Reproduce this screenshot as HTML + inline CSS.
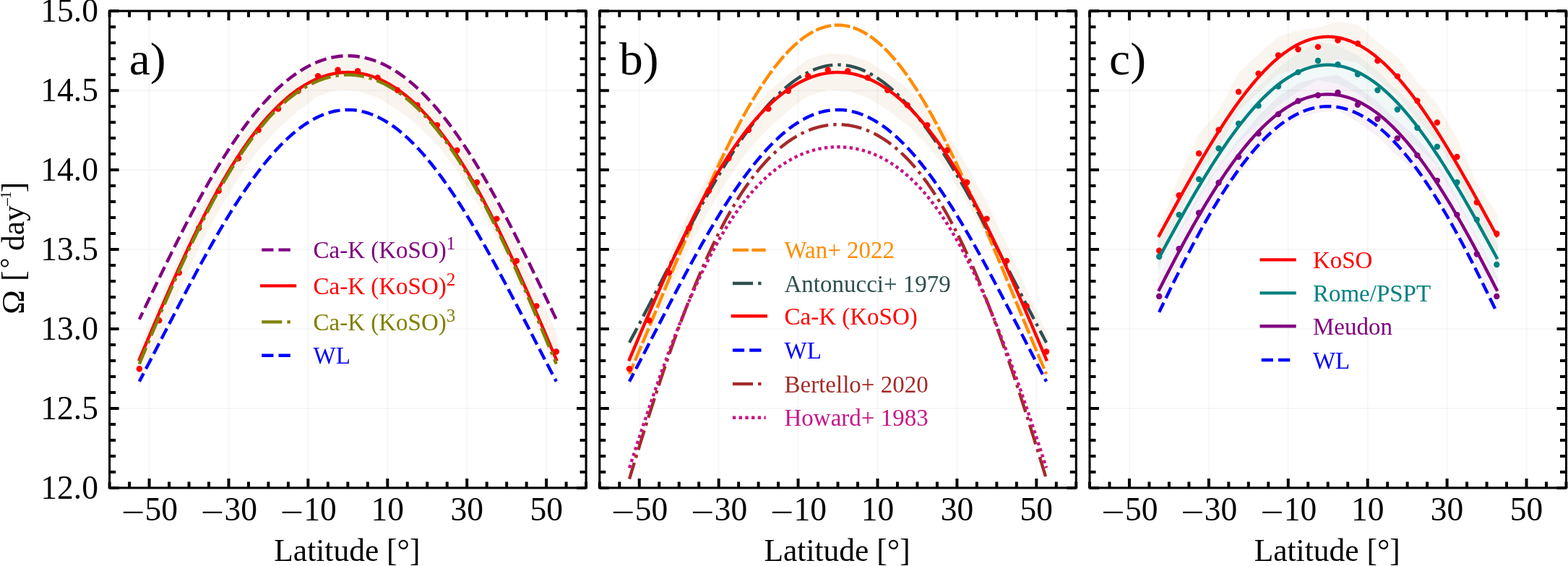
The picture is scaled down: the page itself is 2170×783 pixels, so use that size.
<!DOCTYPE html>
<html><head><meta charset="utf-8"><title>Differential rotation</title>
<style>html,body{margin:0;padding:0;background:#fff;width:2170px;height:783px;overflow:hidden}svg{display:block}</style>
</head><body>
<svg width="2170" height="783" viewBox="0 0 2170 783" font-family="'Liberation Serif', 'Times New Roman', serif">
<rect width="2170" height="783" fill="#fff"/>
<clipPath id="c0"><rect x="151.60" y="15.20" width="659.50" height="659.70"/></clipPath>
<clipPath id="c1"><rect x="829.80" y="15.20" width="659.50" height="659.70"/></clipPath>
<clipPath id="c2"><rect x="1508.00" y="15.20" width="659.50" height="659.70"/></clipPath>
<g stroke="#b0b0b0" stroke-opacity="0.1" stroke-width="2.1" fill="none"><path d="M206.56,15.20V674.90"/><path d="M316.48,15.20V674.90"/><path d="M426.39,15.20V674.90"/><path d="M536.31,15.20V674.90"/><path d="M646.23,15.20V674.90"/><path d="M756.14,15.20V674.90"/><path d="M151.60,564.95H811.10"/><path d="M151.60,455.00H811.10"/><path d="M151.60,345.05H811.10"/><path d="M151.60,235.10H811.10"/><path d="M151.60,125.15H811.10"/></g>
<g stroke="#b0b0b0" stroke-opacity="0.1" stroke-width="2.1" fill="none"><path d="M884.76,15.20V674.90"/><path d="M994.67,15.20V674.90"/><path d="M1104.59,15.20V674.90"/><path d="M1214.51,15.20V674.90"/><path d="M1324.42,15.20V674.90"/><path d="M1434.34,15.20V674.90"/><path d="M829.80,564.95H1489.30"/><path d="M829.80,455.00H1489.30"/><path d="M829.80,345.05H1489.30"/><path d="M829.80,235.10H1489.30"/><path d="M829.80,125.15H1489.30"/></g>
<g stroke="#b0b0b0" stroke-opacity="0.1" stroke-width="2.1" fill="none"><path d="M1562.96,15.20V674.90"/><path d="M1672.88,15.20V674.90"/><path d="M1782.79,15.20V674.90"/><path d="M1892.71,15.20V674.90"/><path d="M2002.62,15.20V674.90"/><path d="M2112.54,15.20V674.90"/><path d="M1508.00,564.95H2167.50"/><path d="M1508.00,455.00H2167.50"/><path d="M1508.00,345.05H2167.50"/><path d="M1508.00,235.10H2167.50"/><path d="M1508.00,125.15H2167.50"/></g>
<g clip-path="url(#c0)"><path d="M191.17,487.11 L220.30,420.26 L247.78,354.29 L275.26,292.49 L302.74,241.04 L330.21,195.96 L357.69,156.82 L385.17,127.35 L412.65,102.72 L440.13,82.05 L467.61,73.69 L495.09,75.23 L522.57,84.47 L550.05,101.62 L577.53,122.29 L605.01,150.00 L632.49,184.96 L659.96,229.16 L687.44,279.52 L714.92,337.79 L742.40,400.24 L771.53,463.36 L771.53,513.93 L742.40,450.82 L714.92,388.37 L687.44,330.10 L659.96,279.74 L632.49,235.54 L605.01,200.58 L577.53,172.87 L550.05,152.20 L522.57,135.05 L495.09,125.81 L467.61,124.27 L440.13,132.63 L412.65,153.30 L385.17,177.93 L357.69,207.39 L330.21,246.53 L302.74,291.61 L275.26,343.07 L247.78,404.86 L220.30,470.83 L191.17,537.68 Z" fill="#cd853f" fill-opacity="0.092" stroke="none"/>
<circle cx="192.82" cy="510.19" r="4.2" fill="#ff0000"/><circle cx="220.30" cy="443.35" r="4.2" fill="#ff0000"/><circle cx="247.78" cy="377.38" r="4.2" fill="#ff0000"/><circle cx="275.26" cy="315.58" r="4.2" fill="#ff0000"/><circle cx="302.74" cy="264.13" r="4.2" fill="#ff0000"/><circle cx="330.21" cy="219.05" r="4.2" fill="#ff0000"/><circle cx="357.69" cy="179.91" r="4.2" fill="#ff0000"/><circle cx="385.17" cy="150.44" r="4.2" fill="#ff0000"/><circle cx="412.65" cy="125.81" r="4.2" fill="#ff0000"/><circle cx="440.13" cy="105.14" r="4.2" fill="#ff0000"/><circle cx="467.61" cy="96.78" r="4.2" fill="#ff0000"/><circle cx="495.09" cy="98.32" r="4.2" fill="#ff0000"/><circle cx="522.57" cy="107.56" r="4.2" fill="#ff0000"/><circle cx="550.05" cy="124.71" r="4.2" fill="#ff0000"/><circle cx="577.53" cy="145.38" r="4.2" fill="#ff0000"/><circle cx="605.01" cy="173.09" r="4.2" fill="#ff0000"/><circle cx="632.49" cy="208.05" r="4.2" fill="#ff0000"/><circle cx="659.96" cy="252.25" r="4.2" fill="#ff0000"/><circle cx="687.44" cy="302.61" r="4.2" fill="#ff0000"/><circle cx="714.92" cy="360.88" r="4.2" fill="#ff0000"/><circle cx="742.40" cy="423.33" r="4.2" fill="#ff0000"/><circle cx="769.88" cy="486.45" r="4.2" fill="#ff0000"/>
<path d="M192.82,441.86 L196.43,434.34 L200.03,426.81 L203.64,419.28 L207.25,411.77 L210.85,404.26 L214.46,396.77 L218.07,389.29 L221.67,381.85 L225.28,374.43 L228.89,367.04 L232.49,359.69 L236.10,352.38 L239.71,345.11 L243.31,337.89 L246.92,330.73 L250.52,323.61 L254.13,316.56 L257.74,309.57 L261.34,302.64 L264.95,295.78 L268.56,289.00 L272.16,282.28 L275.77,275.65 L279.38,269.09 L282.98,262.62 L286.59,256.23 L290.20,249.94 L293.80,243.73 L297.41,237.61 L301.02,231.59 L304.62,225.66 L308.23,219.84 L311.84,214.11 L315.44,208.49 L319.05,202.97 L322.66,197.56 L326.26,192.25 L329.87,187.05 L333.48,181.97 L337.08,176.99 L340.69,172.13 L344.30,167.38 L347.90,162.75 L351.51,158.24 L355.12,153.84 L358.72,149.55 L362.33,145.39 L365.94,141.35 L369.54,137.42 L373.15,133.62 L376.76,129.94 L380.36,126.38 L383.97,122.94 L387.58,119.63 L391.18,116.44 L394.79,113.37 L398.40,110.43 L402.00,107.61 L405.61,104.91 L409.22,102.34 L412.82,99.89 L416.43,97.57 L420.04,95.38 L423.64,93.30 L427.25,91.36 L430.86,89.54 L434.46,87.84 L438.07,86.27 L441.68,84.83 L445.28,83.51 L448.89,82.32 L452.50,81.25 L456.10,80.31 L459.71,79.49 L463.32,78.80 L466.92,78.23 L470.53,77.80 L474.14,77.48 L477.74,77.29 L481.35,77.23 L484.96,77.29 L488.56,77.48 L492.17,77.80 L495.78,78.23 L499.38,78.80 L502.99,79.49 L506.60,80.31 L510.20,81.25 L513.81,82.32 L517.42,83.51 L521.02,84.83 L524.63,86.27 L528.24,87.84 L531.84,89.54 L535.45,91.36 L539.06,93.30 L542.66,95.38 L546.27,97.57 L549.88,99.89 L553.48,102.34 L557.09,104.91 L560.70,107.61 L564.30,110.43 L567.91,113.37 L571.52,116.44 L575.12,119.63 L578.73,122.94 L582.34,126.38 L585.94,129.94 L589.55,133.62 L593.16,137.42 L596.76,141.35 L600.37,145.39 L603.98,149.55 L607.58,153.84 L611.19,158.24 L614.80,162.75 L618.40,167.38 L622.01,172.13 L625.62,176.99 L629.22,181.97 L632.83,187.05 L636.44,192.25 L640.04,197.56 L643.65,202.97 L647.26,208.49 L650.86,214.11 L654.47,219.84 L658.08,225.66 L661.68,231.59 L665.29,237.61 L668.90,243.73 L672.50,249.94 L676.11,256.23 L679.72,262.62 L683.32,269.09 L686.93,275.65 L690.54,282.28 L694.14,289.00 L697.75,295.78 L701.36,302.64 L704.96,309.57 L708.57,316.56 L712.18,323.61 L715.78,330.73 L719.39,337.89 L722.99,345.11 L726.60,352.38 L730.21,359.69 L733.81,367.04 L737.42,374.43 L741.03,381.85 L744.63,389.29 L748.24,396.77 L751.85,404.26 L755.45,411.77 L759.06,419.28 L762.67,426.81 L766.27,434.34 L769.88,441.86" fill="none" stroke="#800080" stroke-width="4.4" stroke-dasharray="16.28 7.04" stroke-dashoffset="5.6" stroke-linejoin="round"/>
<path d="M192.82,497.32 L196.43,488.81 L200.03,480.30 L203.64,471.81 L207.25,463.33 L210.85,454.88 L214.46,446.45 L218.07,438.06 L221.67,429.70 L225.28,421.38 L228.89,413.12 L232.49,404.90 L236.10,396.74 L239.71,388.64 L243.31,380.61 L246.92,372.64 L250.52,364.75 L254.13,356.93 L257.74,349.19 L261.34,341.53 L264.95,333.96 L268.56,326.49 L272.16,319.10 L275.77,311.81 L279.38,304.62 L282.98,297.53 L286.59,290.54 L290.20,283.66 L293.80,276.89 L297.41,270.23 L301.02,263.69 L304.62,257.26 L308.23,250.94 L311.84,244.75 L315.44,238.68 L319.05,232.72 L322.66,226.89 L326.26,221.19 L329.87,215.61 L333.48,210.16 L337.08,204.84 L340.69,199.64 L344.30,194.58 L347.90,189.64 L351.51,184.84 L355.12,180.17 L358.72,175.63 L362.33,171.22 L365.94,166.94 L369.54,162.80 L373.15,158.79 L376.76,154.92 L380.36,151.17 L383.97,147.56 L387.58,144.09 L391.18,140.75 L394.79,137.54 L398.40,134.46 L402.00,131.52 L405.61,128.71 L409.22,126.03 L412.82,123.49 L416.43,121.08 L420.04,118.80 L423.64,116.65 L427.25,114.63 L430.86,112.75 L434.46,110.99 L438.07,109.37 L441.68,107.88 L445.28,106.52 L448.89,105.29 L452.50,104.19 L456.10,103.21 L459.71,102.37 L463.32,101.66 L466.92,101.08 L470.53,100.63 L474.14,100.30 L477.74,100.11 L481.35,100.05 L484.96,100.11 L488.56,100.30 L492.17,100.63 L495.78,101.08 L499.38,101.66 L502.99,102.37 L506.60,103.21 L510.20,104.19 L513.81,105.29 L517.42,106.52 L521.02,107.88 L524.63,109.37 L528.24,110.99 L531.84,112.75 L535.45,114.63 L539.06,116.65 L542.66,118.80 L546.27,121.08 L549.88,123.49 L553.48,126.03 L557.09,128.71 L560.70,131.52 L564.30,134.46 L567.91,137.54 L571.52,140.75 L575.12,144.09 L578.73,147.56 L582.34,151.17 L585.94,154.92 L589.55,158.79 L593.16,162.80 L596.76,166.94 L600.37,171.22 L603.98,175.63 L607.58,180.17 L611.19,184.84 L614.80,189.64 L618.40,194.58 L622.01,199.64 L625.62,204.84 L629.22,210.16 L632.83,215.61 L636.44,221.19 L640.04,226.89 L643.65,232.72 L647.26,238.68 L650.86,244.75 L654.47,250.94 L658.08,257.26 L661.68,263.69 L665.29,270.23 L668.90,276.89 L672.50,283.66 L676.11,290.54 L679.72,297.53 L683.32,304.62 L686.93,311.81 L690.54,319.10 L694.14,326.49 L697.75,333.96 L701.36,341.53 L704.96,349.19 L708.57,356.93 L712.18,364.75 L715.78,372.64 L719.39,380.61 L722.99,388.64 L726.60,396.74 L730.21,404.90 L733.81,413.12 L737.42,421.38 L741.03,429.70 L744.63,438.06 L748.24,446.45 L751.85,454.88 L755.45,463.33 L759.06,471.81 L762.67,480.30 L766.27,488.81 L769.88,497.32" fill="none" stroke="#ff0000" stroke-width="4.4" stroke-linecap="square" stroke-linejoin="round"/>
<path d="M192.82,503.51 L196.43,494.85 L200.03,486.20 L203.64,477.56 L207.25,468.94 L210.85,460.35 L214.46,451.79 L218.07,443.26 L221.67,434.78 L225.28,426.34 L228.89,417.96 L232.49,409.63 L236.10,401.35 L239.71,393.15 L243.31,385.01 L246.92,376.94 L250.52,368.95 L254.13,361.04 L257.74,353.22 L261.34,345.48 L264.95,337.83 L268.56,330.27 L272.16,322.82 L275.77,315.46 L279.38,308.20 L282.98,301.05 L286.59,294.01 L290.20,287.08 L293.80,280.27 L297.41,273.56 L301.02,266.98 L304.62,260.51 L308.23,254.16 L311.84,247.94 L315.44,241.84 L319.05,235.87 L322.66,230.02 L326.26,224.30 L329.87,218.70 L333.48,213.24 L337.08,207.91 L340.69,202.71 L344.30,197.64 L347.90,192.71 L351.51,187.90 L355.12,183.24 L358.72,178.70 L362.33,174.30 L365.94,170.03 L369.54,165.90 L373.15,161.90 L376.76,158.04 L380.36,154.31 L383.97,150.72 L387.58,147.26 L391.18,143.93 L394.79,140.74 L398.40,137.68 L402.00,134.75 L405.61,131.96 L409.22,129.30 L412.82,126.78 L416.43,124.38 L420.04,122.12 L423.64,119.99 L427.25,117.99 L430.86,116.12 L434.46,114.38 L438.07,112.77 L441.68,111.29 L445.28,109.95 L448.89,108.73 L452.50,107.64 L456.10,106.67 L459.71,105.84 L463.32,105.14 L466.92,104.56 L470.53,104.11 L474.14,103.79 L477.74,103.60 L481.35,103.54 L484.96,103.60 L488.56,103.79 L492.17,104.11 L495.78,104.56 L499.38,105.14 L502.99,105.84 L506.60,106.67 L510.20,107.64 L513.81,108.73 L517.42,109.95 L521.02,111.29 L524.63,112.77 L528.24,114.38 L531.84,116.12 L535.45,117.99 L539.06,119.99 L542.66,122.12 L546.27,124.38 L549.88,126.78 L553.48,129.30 L557.09,131.96 L560.70,134.75 L564.30,137.68 L567.91,140.74 L571.52,143.93 L575.12,147.26 L578.73,150.72 L582.34,154.31 L585.94,158.04 L589.55,161.90 L593.16,165.90 L596.76,170.03 L600.37,174.30 L603.98,178.70 L607.58,183.24 L611.19,187.90 L614.80,192.71 L618.40,197.64 L622.01,202.71 L625.62,207.91 L629.22,213.24 L632.83,218.70 L636.44,224.30 L640.04,230.02 L643.65,235.87 L647.26,241.84 L650.86,247.94 L654.47,254.16 L658.08,260.51 L661.68,266.98 L665.29,273.56 L668.90,280.27 L672.50,287.08 L676.11,294.01 L679.72,301.05 L683.32,308.20 L686.93,315.46 L690.54,322.82 L694.14,330.27 L697.75,337.83 L701.36,345.48 L704.96,353.22 L708.57,361.04 L712.18,368.95 L715.78,376.94 L719.39,385.01 L722.99,393.15 L726.60,401.35 L730.21,409.63 L733.81,417.96 L737.42,426.34 L741.03,434.78 L744.63,443.26 L748.24,451.79 L751.85,460.35 L755.45,468.94 L759.06,477.56 L762.67,486.20 L766.27,494.85 L769.88,503.51" fill="none" stroke="#808000" stroke-width="4.4" stroke-dasharray="28.16 7.04 4.40 7.04" stroke-dashoffset="4" stroke-linejoin="round"/>
<path d="M192.82,527.70 L196.43,520.85 L200.03,513.98 L203.64,507.08 L207.25,500.15 L210.85,493.21 L214.46,486.25 L218.07,479.28 L221.67,472.30 L225.28,465.32 L228.89,458.33 L232.49,451.35 L236.10,444.38 L239.71,437.42 L243.31,430.47 L246.92,423.53 L250.52,416.62 L254.13,409.74 L257.74,402.88 L261.34,396.06 L264.95,389.27 L268.56,382.52 L272.16,375.81 L275.77,369.15 L279.38,362.53 L282.98,355.97 L286.59,349.47 L290.20,343.02 L293.80,336.64 L297.41,330.32 L301.02,324.07 L304.62,317.89 L308.23,311.78 L311.84,305.75 L315.44,299.81 L319.05,293.94 L322.66,288.16 L326.26,282.48 L329.87,276.88 L333.48,271.38 L337.08,265.97 L340.69,260.66 L344.30,255.46 L347.90,250.36 L351.51,245.36 L355.12,240.48 L358.72,235.71 L362.33,231.05 L365.94,226.50 L369.54,222.08 L373.15,217.77 L376.76,213.58 L380.36,209.52 L383.97,205.59 L387.58,201.78 L391.18,198.10 L394.79,194.56 L398.40,191.14 L402.00,187.86 L405.61,184.71 L409.22,181.71 L412.82,178.83 L416.43,176.10 L420.04,173.51 L423.64,171.06 L427.25,168.76 L430.86,166.60 L434.46,164.58 L438.07,162.71 L441.68,160.98 L445.28,159.41 L448.89,157.98 L452.50,156.70 L456.10,155.57 L459.71,154.59 L463.32,153.76 L466.92,153.08 L470.53,152.55 L474.14,152.17 L477.74,151.94 L481.35,151.86 L484.96,151.94 L488.56,152.17 L492.17,152.55 L495.78,153.08 L499.38,153.76 L502.99,154.59 L506.60,155.57 L510.20,156.70 L513.81,157.98 L517.42,159.41 L521.02,160.98 L524.63,162.71 L528.24,164.58 L531.84,166.60 L535.45,168.76 L539.06,171.06 L542.66,173.51 L546.27,176.10 L549.88,178.83 L553.48,181.71 L557.09,184.71 L560.70,187.86 L564.30,191.14 L567.91,194.56 L571.52,198.10 L575.12,201.78 L578.73,205.59 L582.34,209.52 L585.94,213.58 L589.55,217.77 L593.16,222.08 L596.76,226.50 L600.37,231.05 L603.98,235.71 L607.58,240.48 L611.19,245.36 L614.80,250.36 L618.40,255.46 L622.01,260.66 L625.62,265.97 L629.22,271.38 L632.83,276.88 L636.44,282.48 L640.04,288.16 L643.65,293.94 L647.26,299.81 L650.86,305.75 L654.47,311.78 L658.08,317.89 L661.68,324.07 L665.29,330.32 L668.90,336.64 L672.50,343.02 L676.11,349.47 L679.72,355.97 L683.32,362.53 L686.93,369.15 L690.54,375.81 L694.14,382.52 L697.75,389.27 L701.36,396.06 L704.96,402.88 L708.57,409.74 L712.18,416.62 L715.78,423.53 L719.39,430.47 L722.99,437.42 L726.60,444.38 L730.21,451.35 L733.81,458.33 L737.42,465.32 L741.03,472.30 L744.63,479.28 L748.24,486.25 L751.85,493.21 L755.45,500.15 L759.06,507.08 L762.67,513.98 L766.27,520.85 L769.88,527.70" fill="none" stroke="#0000ff" stroke-width="4.4" stroke-dasharray="16.28 7.04" stroke-dashoffset="3.6" stroke-linejoin="round"/></g>
<g clip-path="url(#c1)"><path d="M869.37,487.11 L898.50,420.26 L925.98,354.29 L953.46,292.49 L980.94,241.04 L1008.41,195.96 L1035.89,156.82 L1063.37,127.35 L1090.85,102.72 L1118.33,82.05 L1145.81,73.69 L1173.29,75.23 L1200.77,84.47 L1228.25,101.62 L1255.73,122.29 L1283.21,150.00 L1310.69,184.96 L1338.16,229.16 L1365.64,279.52 L1393.12,337.79 L1420.60,400.24 L1449.73,463.36 L1449.73,513.93 L1420.60,450.82 L1393.12,388.37 L1365.64,330.10 L1338.16,279.74 L1310.69,235.54 L1283.21,200.58 L1255.73,172.87 L1228.25,152.20 L1200.77,135.05 L1173.29,125.81 L1145.81,124.27 L1118.33,132.63 L1090.85,153.30 L1063.37,177.93 L1035.89,207.39 L1008.41,246.53 L980.94,291.61 L953.46,343.07 L925.98,404.86 L898.50,470.83 L869.37,537.68 Z" fill="#cd853f" fill-opacity="0.092" stroke="none"/>
<path d="M871.02,517.33 L874.63,508.94 L878.23,500.50 L881.84,492.01 L885.45,483.48 L889.05,474.91 L892.66,466.31 L896.27,457.68 L899.87,449.02 L903.48,440.35 L907.09,431.65 L910.69,422.95 L914.30,414.24 L917.91,405.53 L921.51,396.82 L925.12,388.12 L928.72,379.43 L932.33,370.76 L935.94,362.11 L939.54,353.48 L943.15,344.88 L946.76,336.32 L950.36,327.80 L953.97,319.32 L957.58,310.89 L961.18,302.51 L964.79,294.19 L968.40,285.94 L972.00,277.74 L975.61,269.62 L979.22,261.58 L982.82,253.61 L986.43,245.73 L990.04,237.93 L993.64,230.23 L997.25,222.62 L1000.86,215.11 L1004.46,207.71 L1008.07,200.42 L1011.68,193.24 L1015.28,186.17 L1018.89,179.23 L1022.50,172.41 L1026.10,165.72 L1029.71,159.16 L1033.32,152.73 L1036.92,146.44 L1040.53,140.30 L1044.14,134.30 L1047.74,128.45 L1051.35,122.75 L1054.96,117.20 L1058.56,111.82 L1062.17,106.59 L1065.78,101.53 L1069.38,96.64 L1072.99,91.91 L1076.60,87.36 L1080.20,82.98 L1083.81,78.78 L1087.42,74.76 L1091.02,70.92 L1094.63,67.27 L1098.24,63.80 L1101.84,60.52 L1105.45,57.42 L1109.06,54.52 L1112.66,51.82 L1116.27,49.30 L1119.88,46.98 L1123.48,44.86 L1127.09,42.94 L1130.70,41.22 L1134.30,39.70 L1137.91,38.38 L1141.52,37.26 L1145.12,36.34 L1148.73,35.63 L1152.34,35.12 L1155.94,34.81 L1159.55,34.71 L1163.16,34.81 L1166.76,35.12 L1170.37,35.63 L1173.98,36.34 L1177.58,37.26 L1181.19,38.38 L1184.80,39.70 L1188.40,41.22 L1192.01,42.94 L1195.62,44.86 L1199.22,46.98 L1202.83,49.30 L1206.44,51.82 L1210.04,54.52 L1213.65,57.42 L1217.26,60.52 L1220.86,63.80 L1224.47,67.27 L1228.08,70.92 L1231.68,74.76 L1235.29,78.78 L1238.90,82.98 L1242.50,87.36 L1246.11,91.91 L1249.72,96.64 L1253.32,101.53 L1256.93,106.59 L1260.54,111.82 L1264.14,117.20 L1267.75,122.75 L1271.36,128.45 L1274.96,134.30 L1278.57,140.30 L1282.18,146.44 L1285.78,152.73 L1289.39,159.16 L1293.00,165.72 L1296.60,172.41 L1300.21,179.23 L1303.82,186.17 L1307.42,193.24 L1311.03,200.42 L1314.64,207.71 L1318.24,215.11 L1321.85,222.62 L1325.46,230.23 L1329.06,237.93 L1332.67,245.73 L1336.28,253.61 L1339.88,261.58 L1343.49,269.62 L1347.10,277.74 L1350.70,285.94 L1354.31,294.19 L1357.92,302.51 L1361.52,310.89 L1365.13,319.32 L1368.74,327.80 L1372.34,336.32 L1375.95,344.88 L1379.56,353.48 L1383.16,362.11 L1386.77,370.76 L1390.38,379.43 L1393.98,388.12 L1397.59,396.82 L1401.19,405.53 L1404.80,414.24 L1408.41,422.95 L1412.01,431.65 L1415.62,440.35 L1419.23,449.02 L1422.83,457.68 L1426.44,466.31 L1430.05,474.91 L1433.65,483.48 L1437.26,492.01 L1440.87,500.50 L1444.47,508.94 L1448.08,517.33" fill="none" stroke="#ff8c00" stroke-width="4.4" stroke-dasharray="22.00 4.40" stroke-dashoffset="6.4" stroke-linejoin="round"/>
<path d="M871.02,473.92 L874.63,467.16 L878.23,460.36 L881.84,453.52 L885.45,446.65 L889.05,439.76 L892.66,432.84 L896.27,425.90 L899.87,418.95 L903.48,411.98 L907.09,405.00 L910.69,398.02 L914.30,391.04 L917.91,384.05 L921.51,377.07 L925.12,370.10 L928.72,363.15 L932.33,356.21 L935.94,349.29 L939.54,342.39 L943.15,335.52 L946.76,328.68 L950.36,321.88 L953.97,315.11 L957.58,308.39 L961.18,301.71 L964.79,295.07 L968.40,288.49 L972.00,281.97 L975.61,275.51 L979.22,269.10 L982.82,262.77 L986.43,256.50 L990.04,250.30 L993.64,244.18 L997.25,238.14 L1000.86,232.18 L1004.46,226.31 L1008.07,220.52 L1011.68,214.83 L1015.28,209.23 L1018.89,203.73 L1022.50,198.33 L1026.10,193.03 L1029.71,187.83 L1033.32,182.75 L1036.92,177.77 L1040.53,172.91 L1044.14,168.17 L1047.74,163.55 L1051.35,159.04 L1054.96,154.66 L1058.56,150.41 L1062.17,146.29 L1065.78,142.29 L1069.38,138.43 L1072.99,134.70 L1076.60,131.11 L1080.20,127.66 L1083.81,124.35 L1087.42,121.18 L1091.02,118.16 L1094.63,115.28 L1098.24,112.54 L1101.84,109.96 L1105.45,107.52 L1109.06,105.24 L1112.66,103.11 L1116.27,101.13 L1119.88,99.30 L1123.48,97.64 L1127.09,96.12 L1130.70,94.77 L1134.30,93.57 L1137.91,92.53 L1141.52,91.65 L1145.12,90.93 L1148.73,90.37 L1152.34,89.97 L1155.94,89.73 L1159.55,89.65 L1163.16,89.73 L1166.76,89.97 L1170.37,90.37 L1173.98,90.93 L1177.58,91.65 L1181.19,92.53 L1184.80,93.57 L1188.40,94.77 L1192.01,96.12 L1195.62,97.64 L1199.22,99.30 L1202.83,101.13 L1206.44,103.11 L1210.04,105.24 L1213.65,107.52 L1217.26,109.96 L1220.86,112.54 L1224.47,115.28 L1228.08,118.16 L1231.68,121.18 L1235.29,124.35 L1238.90,127.66 L1242.50,131.11 L1246.11,134.70 L1249.72,138.43 L1253.32,142.29 L1256.93,146.29 L1260.54,150.41 L1264.14,154.66 L1267.75,159.04 L1271.36,163.55 L1274.96,168.17 L1278.57,172.91 L1282.18,177.77 L1285.78,182.75 L1289.39,187.83 L1293.00,193.03 L1296.60,198.33 L1300.21,203.73 L1303.82,209.23 L1307.42,214.83 L1311.03,220.52 L1314.64,226.31 L1318.24,232.18 L1321.85,238.14 L1325.46,244.18 L1329.06,250.30 L1332.67,256.50 L1336.28,262.77 L1339.88,269.10 L1343.49,275.51 L1347.10,281.97 L1350.70,288.49 L1354.31,295.07 L1357.92,301.71 L1361.52,308.39 L1365.13,315.11 L1368.74,321.88 L1372.34,328.68 L1375.95,335.52 L1379.56,342.39 L1383.16,349.29 L1386.77,356.21 L1390.38,363.15 L1393.98,370.10 L1397.59,377.07 L1401.19,384.05 L1404.80,391.04 L1408.41,398.02 L1412.01,405.00 L1415.62,411.98 L1419.23,418.95 L1422.83,425.90 L1426.44,432.84 L1430.05,439.76 L1433.65,446.65 L1437.26,453.52 L1440.87,460.36 L1444.47,467.16 L1448.08,473.92" fill="none" stroke="#2f4f4f" stroke-width="4.4" stroke-dasharray="28.16 7.04 4.40 7.04" stroke-dashoffset="5.6" stroke-linejoin="round"/>
<path d="M871.02,497.32 L874.63,488.81 L878.23,480.30 L881.84,471.81 L885.45,463.33 L889.05,454.88 L892.66,446.45 L896.27,438.06 L899.87,429.70 L903.48,421.38 L907.09,413.12 L910.69,404.90 L914.30,396.74 L917.91,388.64 L921.51,380.61 L925.12,372.64 L928.72,364.75 L932.33,356.93 L935.94,349.19 L939.54,341.53 L943.15,333.96 L946.76,326.49 L950.36,319.10 L953.97,311.81 L957.58,304.62 L961.18,297.53 L964.79,290.54 L968.40,283.66 L972.00,276.89 L975.61,270.23 L979.22,263.69 L982.82,257.26 L986.43,250.94 L990.04,244.75 L993.64,238.68 L997.25,232.72 L1000.86,226.89 L1004.46,221.19 L1008.07,215.61 L1011.68,210.16 L1015.28,204.84 L1018.89,199.64 L1022.50,194.58 L1026.10,189.64 L1029.71,184.84 L1033.32,180.17 L1036.92,175.63 L1040.53,171.22 L1044.14,166.94 L1047.74,162.80 L1051.35,158.79 L1054.96,154.92 L1058.56,151.17 L1062.17,147.56 L1065.78,144.09 L1069.38,140.75 L1072.99,137.54 L1076.60,134.46 L1080.20,131.52 L1083.81,128.71 L1087.42,126.03 L1091.02,123.49 L1094.63,121.08 L1098.24,118.80 L1101.84,116.65 L1105.45,114.63 L1109.06,112.75 L1112.66,110.99 L1116.27,109.37 L1119.88,107.88 L1123.48,106.52 L1127.09,105.29 L1130.70,104.19 L1134.30,103.21 L1137.91,102.37 L1141.52,101.66 L1145.12,101.08 L1148.73,100.63 L1152.34,100.30 L1155.94,100.11 L1159.55,100.05 L1163.16,100.11 L1166.76,100.30 L1170.37,100.63 L1173.98,101.08 L1177.58,101.66 L1181.19,102.37 L1184.80,103.21 L1188.40,104.19 L1192.01,105.29 L1195.62,106.52 L1199.22,107.88 L1202.83,109.37 L1206.44,110.99 L1210.04,112.75 L1213.65,114.63 L1217.26,116.65 L1220.86,118.80 L1224.47,121.08 L1228.08,123.49 L1231.68,126.03 L1235.29,128.71 L1238.90,131.52 L1242.50,134.46 L1246.11,137.54 L1249.72,140.75 L1253.32,144.09 L1256.93,147.56 L1260.54,151.17 L1264.14,154.92 L1267.75,158.79 L1271.36,162.80 L1274.96,166.94 L1278.57,171.22 L1282.18,175.63 L1285.78,180.17 L1289.39,184.84 L1293.00,189.64 L1296.60,194.58 L1300.21,199.64 L1303.82,204.84 L1307.42,210.16 L1311.03,215.61 L1314.64,221.19 L1318.24,226.89 L1321.85,232.72 L1325.46,238.68 L1329.06,244.75 L1332.67,250.94 L1336.28,257.26 L1339.88,263.69 L1343.49,270.23 L1347.10,276.89 L1350.70,283.66 L1354.31,290.54 L1357.92,297.53 L1361.52,304.62 L1365.13,311.81 L1368.74,319.10 L1372.34,326.49 L1375.95,333.96 L1379.56,341.53 L1383.16,349.19 L1386.77,356.93 L1390.38,364.75 L1393.98,372.64 L1397.59,380.61 L1401.19,388.64 L1404.80,396.74 L1408.41,404.90 L1412.01,413.12 L1415.62,421.38 L1419.23,429.70 L1422.83,438.06 L1426.44,446.45 L1430.05,454.88 L1433.65,463.33 L1437.26,471.81 L1440.87,480.30 L1444.47,488.81 L1448.08,497.32" fill="none" stroke="#ff0000" stroke-width="4.4" stroke-linecap="square" stroke-linejoin="round"/>
<circle cx="871.02" cy="510.19" r="4.2" fill="#ff0000"/><circle cx="898.50" cy="443.35" r="4.2" fill="#ff0000"/><circle cx="925.98" cy="377.38" r="4.2" fill="#ff0000"/><circle cx="953.46" cy="315.58" r="4.2" fill="#ff0000"/><circle cx="980.94" cy="264.13" r="4.2" fill="#ff0000"/><circle cx="1008.41" cy="219.05" r="4.2" fill="#ff0000"/><circle cx="1035.89" cy="179.91" r="4.2" fill="#ff0000"/><circle cx="1063.37" cy="150.44" r="4.2" fill="#ff0000"/><circle cx="1090.85" cy="125.81" r="4.2" fill="#ff0000"/><circle cx="1118.33" cy="105.14" r="4.2" fill="#ff0000"/><circle cx="1145.81" cy="96.78" r="4.2" fill="#ff0000"/><circle cx="1173.29" cy="98.32" r="4.2" fill="#ff0000"/><circle cx="1200.77" cy="107.56" r="4.2" fill="#ff0000"/><circle cx="1228.25" cy="124.71" r="4.2" fill="#ff0000"/><circle cx="1255.73" cy="145.38" r="4.2" fill="#ff0000"/><circle cx="1283.21" cy="173.09" r="4.2" fill="#ff0000"/><circle cx="1310.69" cy="208.05" r="4.2" fill="#ff0000"/><circle cx="1338.16" cy="252.25" r="4.2" fill="#ff0000"/><circle cx="1365.64" cy="302.61" r="4.2" fill="#ff0000"/><circle cx="1393.12" cy="360.88" r="4.2" fill="#ff0000"/><circle cx="1420.60" cy="423.33" r="4.2" fill="#ff0000"/><circle cx="1448.08" cy="486.45" r="4.2" fill="#ff0000"/>
<path d="M871.02,527.70 L874.63,520.85 L878.23,513.98 L881.84,507.08 L885.45,500.15 L889.05,493.21 L892.66,486.25 L896.27,479.28 L899.87,472.30 L903.48,465.32 L907.09,458.33 L910.69,451.35 L914.30,444.38 L917.91,437.42 L921.51,430.47 L925.12,423.53 L928.72,416.62 L932.33,409.74 L935.94,402.88 L939.54,396.06 L943.15,389.27 L946.76,382.52 L950.36,375.81 L953.97,369.15 L957.58,362.53 L961.18,355.97 L964.79,349.47 L968.40,343.02 L972.00,336.64 L975.61,330.32 L979.22,324.07 L982.82,317.89 L986.43,311.78 L990.04,305.75 L993.64,299.81 L997.25,293.94 L1000.86,288.16 L1004.46,282.48 L1008.07,276.88 L1011.68,271.38 L1015.28,265.97 L1018.89,260.66 L1022.50,255.46 L1026.10,250.36 L1029.71,245.36 L1033.32,240.48 L1036.92,235.71 L1040.53,231.05 L1044.14,226.50 L1047.74,222.08 L1051.35,217.77 L1054.96,213.58 L1058.56,209.52 L1062.17,205.59 L1065.78,201.78 L1069.38,198.10 L1072.99,194.56 L1076.60,191.14 L1080.20,187.86 L1083.81,184.71 L1087.42,181.71 L1091.02,178.83 L1094.63,176.10 L1098.24,173.51 L1101.84,171.06 L1105.45,168.76 L1109.06,166.60 L1112.66,164.58 L1116.27,162.71 L1119.88,160.98 L1123.48,159.41 L1127.09,157.98 L1130.70,156.70 L1134.30,155.57 L1137.91,154.59 L1141.52,153.76 L1145.12,153.08 L1148.73,152.55 L1152.34,152.17 L1155.94,151.94 L1159.55,151.86 L1163.16,151.94 L1166.76,152.17 L1170.37,152.55 L1173.98,153.08 L1177.58,153.76 L1181.19,154.59 L1184.80,155.57 L1188.40,156.70 L1192.01,157.98 L1195.62,159.41 L1199.22,160.98 L1202.83,162.71 L1206.44,164.58 L1210.04,166.60 L1213.65,168.76 L1217.26,171.06 L1220.86,173.51 L1224.47,176.10 L1228.08,178.83 L1231.68,181.71 L1235.29,184.71 L1238.90,187.86 L1242.50,191.14 L1246.11,194.56 L1249.72,198.10 L1253.32,201.78 L1256.93,205.59 L1260.54,209.52 L1264.14,213.58 L1267.75,217.77 L1271.36,222.08 L1274.96,226.50 L1278.57,231.05 L1282.18,235.71 L1285.78,240.48 L1289.39,245.36 L1293.00,250.36 L1296.60,255.46 L1300.21,260.66 L1303.82,265.97 L1307.42,271.38 L1311.03,276.88 L1314.64,282.48 L1318.24,288.16 L1321.85,293.94 L1325.46,299.81 L1329.06,305.75 L1332.67,311.78 L1336.28,317.89 L1339.88,324.07 L1343.49,330.32 L1347.10,336.64 L1350.70,343.02 L1354.31,349.47 L1357.92,355.97 L1361.52,362.53 L1365.13,369.15 L1368.74,375.81 L1372.34,382.52 L1375.95,389.27 L1379.56,396.06 L1383.16,402.88 L1386.77,409.74 L1390.38,416.62 L1393.98,423.53 L1397.59,430.47 L1401.19,437.42 L1404.80,444.38 L1408.41,451.35 L1412.01,458.33 L1415.62,465.32 L1419.23,472.30 L1422.83,479.28 L1426.44,486.25 L1430.05,493.21 L1433.65,500.15 L1437.26,507.08 L1440.87,513.98 L1444.47,520.85 L1448.08,527.70" fill="none" stroke="#0000ff" stroke-width="4.4" stroke-dasharray="16.28 7.04" stroke-dashoffset="3.6" stroke-linejoin="round"/>
<path d="M871.02,662.57 L874.63,650.70 L878.23,638.88 L881.84,627.12 L885.45,615.43 L889.05,603.81 L892.66,592.27 L896.27,580.82 L899.87,569.47 L903.48,558.22 L907.09,547.07 L910.69,536.05 L914.30,525.14 L917.91,514.36 L921.51,503.71 L925.12,493.20 L928.72,482.83 L932.33,472.60 L935.94,462.53 L939.54,452.61 L943.15,442.86 L946.76,433.26 L950.36,423.83 L953.97,414.57 L957.58,405.48 L961.18,396.57 L964.79,387.83 L968.40,379.27 L972.00,370.89 L975.61,362.70 L979.22,354.69 L982.82,346.86 L986.43,339.21 L990.04,331.76 L993.64,324.49 L997.25,317.40 L1000.86,310.51 L1004.46,303.80 L1008.07,297.27 L1011.68,290.93 L1015.28,284.78 L1018.89,278.81 L1022.50,273.02 L1026.10,267.42 L1029.71,261.99 L1033.32,256.75 L1036.92,251.68 L1040.53,246.79 L1044.14,242.08 L1047.74,237.53 L1051.35,233.16 L1054.96,228.96 L1058.56,224.93 L1062.17,221.06 L1065.78,217.35 L1069.38,213.80 L1072.99,210.42 L1076.60,207.19 L1080.20,204.12 L1083.81,201.20 L1087.42,198.43 L1091.02,195.81 L1094.63,193.34 L1098.24,191.01 L1101.84,188.83 L1105.45,186.79 L1109.06,184.89 L1112.66,183.12 L1116.27,181.50 L1119.88,180.01 L1123.48,178.65 L1127.09,177.43 L1130.70,176.34 L1134.30,175.38 L1137.91,174.55 L1141.52,173.85 L1145.12,173.28 L1148.73,172.83 L1152.34,172.51 L1155.94,172.32 L1159.55,172.26 L1163.16,172.32 L1166.76,172.51 L1170.37,172.83 L1173.98,173.28 L1177.58,173.85 L1181.19,174.55 L1184.80,175.38 L1188.40,176.34 L1192.01,177.43 L1195.62,178.65 L1199.22,180.01 L1202.83,181.50 L1206.44,183.12 L1210.04,184.89 L1213.65,186.79 L1217.26,188.83 L1220.86,191.01 L1224.47,193.34 L1228.08,195.81 L1231.68,198.43 L1235.29,201.20 L1238.90,204.12 L1242.50,207.19 L1246.11,210.42 L1249.72,213.80 L1253.32,217.35 L1256.93,221.06 L1260.54,224.93 L1264.14,228.96 L1267.75,233.16 L1271.36,237.53 L1274.96,242.08 L1278.57,246.79 L1282.18,251.68 L1285.78,256.75 L1289.39,261.99 L1293.00,267.42 L1296.60,273.02 L1300.21,278.81 L1303.82,284.78 L1307.42,290.93 L1311.03,297.27 L1314.64,303.80 L1318.24,310.51 L1321.85,317.40 L1325.46,324.49 L1329.06,331.76 L1332.67,339.21 L1336.28,346.86 L1339.88,354.69 L1343.49,362.70 L1347.10,370.89 L1350.70,379.27 L1354.31,387.83 L1357.92,396.57 L1361.52,405.48 L1365.13,414.57 L1368.74,423.83 L1372.34,433.26 L1375.95,442.86 L1379.56,452.61 L1383.16,462.53 L1386.77,472.60 L1390.38,482.83 L1393.98,493.20 L1397.59,503.71 L1401.19,514.36 L1404.80,525.14 L1408.41,536.05 L1412.01,547.07 L1415.62,558.22 L1419.23,569.47 L1422.83,580.82 L1426.44,592.27 L1430.05,603.81 L1433.65,615.43 L1437.26,627.12 L1440.87,638.88 L1444.47,650.70 L1448.08,662.57" fill="none" stroke="#a52a2a" stroke-width="4.4" stroke-dasharray="28.16 7.04 4.40 7.04" stroke-dashoffset="4.6" stroke-linejoin="round"/>
<path d="M871.02,647.37 L874.63,636.12 L878.23,624.94 L881.84,613.82 L885.45,602.78 L889.05,591.82 L892.66,580.95 L896.27,570.18 L899.87,559.52 L903.48,548.96 L907.09,538.52 L910.69,528.21 L914.30,518.02 L917.91,507.97 L921.51,498.05 L925.12,488.28 L928.72,478.66 L932.33,469.19 L935.94,459.88 L939.54,450.72 L943.15,441.73 L946.76,432.90 L950.36,424.25 L953.97,415.76 L957.58,407.45 L961.18,399.32 L964.79,391.36 L968.40,383.58 L972.00,375.99 L975.61,368.57 L979.22,361.34 L982.82,354.29 L986.43,347.42 L990.04,340.73 L993.64,334.23 L997.25,327.91 L1000.86,321.77 L1004.46,315.81 L1008.07,310.03 L1011.68,304.43 L1015.28,299.01 L1018.89,293.76 L1022.50,288.69 L1026.10,283.79 L1029.71,279.06 L1033.32,274.50 L1036.92,270.11 L1040.53,265.88 L1044.14,261.82 L1047.74,257.91 L1051.35,254.16 L1054.96,250.57 L1058.56,247.13 L1062.17,243.84 L1065.78,240.69 L1069.38,237.70 L1072.99,234.84 L1076.60,232.12 L1080.20,229.54 L1083.81,227.10 L1087.42,224.79 L1091.02,222.61 L1094.63,220.55 L1098.24,218.62 L1101.84,216.82 L1105.45,215.13 L1109.06,213.56 L1112.66,212.12 L1116.27,210.78 L1119.88,209.56 L1123.48,208.45 L1127.09,207.45 L1130.70,206.56 L1134.30,205.78 L1137.91,205.11 L1141.52,204.54 L1145.12,204.07 L1148.73,203.71 L1152.34,203.45 L1155.94,203.30 L1159.55,203.25 L1163.16,203.30 L1166.76,203.45 L1170.37,203.71 L1173.98,204.07 L1177.58,204.54 L1181.19,205.11 L1184.80,205.78 L1188.40,206.56 L1192.01,207.45 L1195.62,208.45 L1199.22,209.56 L1202.83,210.78 L1206.44,212.12 L1210.04,213.56 L1213.65,215.13 L1217.26,216.82 L1220.86,218.62 L1224.47,220.55 L1228.08,222.61 L1231.68,224.79 L1235.29,227.10 L1238.90,229.54 L1242.50,232.12 L1246.11,234.84 L1249.72,237.70 L1253.32,240.69 L1256.93,243.84 L1260.54,247.13 L1264.14,250.57 L1267.75,254.16 L1271.36,257.91 L1274.96,261.82 L1278.57,265.88 L1282.18,270.11 L1285.78,274.50 L1289.39,279.06 L1293.00,283.79 L1296.60,288.69 L1300.21,293.76 L1303.82,299.01 L1307.42,304.43 L1311.03,310.03 L1314.64,315.81 L1318.24,321.77 L1321.85,327.91 L1325.46,334.23 L1329.06,340.73 L1332.67,347.42 L1336.28,354.29 L1339.88,361.34 L1343.49,368.57 L1347.10,375.99 L1350.70,383.58 L1354.31,391.36 L1357.92,399.32 L1361.52,407.45 L1365.13,415.76 L1368.74,424.25 L1372.34,432.90 L1375.95,441.73 L1379.56,450.72 L1383.16,459.88 L1386.77,469.19 L1390.38,478.66 L1393.98,488.28 L1397.59,498.05 L1401.19,507.97 L1404.80,518.02 L1408.41,528.21 L1412.01,538.52 L1415.62,548.96 L1419.23,559.52 L1422.83,570.18 L1426.44,580.95 L1430.05,591.82 L1433.65,602.78 L1437.26,613.82 L1440.87,624.94 L1444.47,636.12 L1448.08,647.37" fill="none" stroke="#c71585" stroke-width="4.4" stroke-dasharray="4.40 4.31" stroke-linejoin="round"/></g>
<g clip-path="url(#c2)"><path d="M1602.53,320.42 L1631.66,243.90 L1659.14,185.84 L1686.61,153.30 L1714.09,100.52 L1741.57,75.23 L1769.05,50.16 L1796.53,41.81 L1824.01,38.51 L1851.49,29.49 L1878.97,33.89 L1906.45,57.64 L1933.93,79.19 L1961.41,113.06 L1988.89,143.18 L2016.36,190.68 L2043.84,253.57 L2072.97,296.89 L2072.97,349.67 L2043.84,306.35 L2016.36,243.46 L1988.89,195.96 L1961.41,165.83 L1933.93,131.97 L1906.45,110.42 L1878.97,86.67 L1851.49,82.27 L1824.01,91.29 L1796.53,94.58 L1769.05,102.94 L1741.57,128.01 L1714.09,153.30 L1686.61,206.07 L1659.14,238.62 L1631.66,296.67 L1602.53,373.20 Z" fill="#cd853f" fill-opacity="0.08" stroke="none"/>
<path d="M1602.53,328.56 L1631.66,270.72 L1659.14,221.47 L1686.61,178.81 L1714.09,144.50 L1741.57,119.87 L1769.05,93.04 L1796.53,73.47 L1824.01,57.64 L1851.49,62.92 L1878.97,76.33 L1906.45,98.32 L1933.93,125.15 L1961.41,150.44 L1988.89,176.61 L2016.36,225.86 L2043.84,277.54 L2072.97,339.55 L2072.97,392.33 L2043.84,330.32 L2016.36,278.64 L1988.89,229.38 L1961.41,203.21 L1933.93,177.93 L1906.45,151.10 L1878.97,129.11 L1851.49,115.69 L1824.01,110.42 L1796.53,126.25 L1769.05,145.82 L1741.57,172.65 L1714.09,197.28 L1686.61,231.58 L1659.14,274.24 L1631.66,323.50 L1602.53,381.33 Z" fill="#008080" fill-opacity="0.055" stroke="none"/>
<path d="M1602.53,385.73 L1631.66,319.98 L1659.14,270.28 L1686.61,228.50 L1714.09,192.88 L1741.57,160.55 L1769.05,133.73 L1796.53,115.47 L1824.01,107.56 L1851.49,103.82 L1878.97,120.53 L1906.45,140.32 L1933.93,167.15 L1961.41,190.68 L1988.89,225.64 L2016.36,272.92 L2043.84,327.24 L2072.97,385.73 L2072.97,434.11 L2043.84,375.62 L2016.36,321.30 L1988.89,274.02 L1961.41,239.06 L1933.93,215.53 L1906.45,188.70 L1878.97,168.91 L1851.49,152.20 L1824.01,155.94 L1796.53,163.85 L1769.05,182.10 L1741.57,208.93 L1714.09,241.26 L1686.61,276.88 L1659.14,318.66 L1631.66,368.36 L1602.53,434.11 Z" fill="#800080" fill-opacity="0.055" stroke="none"/>
<path d="M1604.18,325.92 L1607.10,320.55 L1610.02,315.18 L1612.94,309.81 L1615.86,304.45 L1618.78,299.10 L1621.70,293.76 L1624.61,288.43 L1627.53,283.12 L1630.45,277.82 L1633.37,272.54 L1636.29,267.29 L1639.21,262.05 L1642.13,256.83 L1645.05,251.65 L1647.97,246.49 L1650.89,241.36 L1653.81,236.26 L1656.73,231.19 L1659.65,226.16 L1662.57,221.17 L1665.49,216.22 L1668.41,211.30 L1671.33,206.43 L1674.25,201.61 L1677.17,196.83 L1680.09,192.10 L1683.01,187.42 L1685.93,182.79 L1688.85,178.22 L1691.77,173.70 L1694.69,169.24 L1697.61,164.84 L1700.53,160.50 L1703.45,156.22 L1706.37,152.01 L1709.28,147.86 L1712.20,143.78 L1715.12,139.77 L1718.04,135.83 L1720.96,131.96 L1723.88,128.17 L1726.80,124.45 L1729.72,120.81 L1732.64,117.24 L1735.56,113.76 L1738.48,110.36 L1741.40,107.04 L1744.32,103.80 L1747.24,100.65 L1750.16,97.59 L1753.08,94.61 L1756.00,91.73 L1758.92,88.93 L1761.84,86.22 L1764.76,83.61 L1767.68,81.09 L1770.60,78.67 L1773.52,76.34 L1776.44,74.11 L1779.36,71.97 L1782.28,69.94 L1785.20,68.00 L1788.12,66.16 L1791.04,64.43 L1793.96,62.79 L1796.87,61.26 L1799.79,59.83 L1802.71,58.51 L1805.63,57.28 L1808.55,56.17 L1811.47,55.15 L1814.39,54.25 L1817.31,53.45 L1820.23,52.75 L1823.15,52.16 L1826.07,51.68 L1828.99,51.31 L1831.91,51.04 L1834.83,50.88 L1837.75,50.82 L1840.67,50.88 L1843.59,51.04 L1846.51,51.31 L1849.43,51.68 L1852.35,52.16 L1855.27,52.75 L1858.19,53.45 L1861.11,54.25 L1864.03,55.15 L1866.95,56.17 L1869.87,57.28 L1872.79,58.51 L1875.71,59.83 L1878.63,61.26 L1881.54,62.79 L1884.46,64.43 L1887.38,66.16 L1890.30,68.00 L1893.22,69.94 L1896.14,71.97 L1899.06,74.11 L1901.98,76.34 L1904.90,78.67 L1907.82,81.09 L1910.74,83.61 L1913.66,86.22 L1916.58,88.93 L1919.50,91.73 L1922.42,94.61 L1925.34,97.59 L1928.26,100.65 L1931.18,103.80 L1934.10,107.04 L1937.02,110.36 L1939.94,113.76 L1942.86,117.24 L1945.78,120.81 L1948.70,124.45 L1951.62,128.17 L1954.54,131.96 L1957.46,135.83 L1960.38,139.77 L1963.30,143.78 L1966.22,147.86 L1969.13,152.01 L1972.05,156.22 L1974.97,160.50 L1977.89,164.84 L1980.81,169.24 L1983.73,173.70 L1986.65,178.22 L1989.57,182.79 L1992.49,187.42 L1995.41,192.10 L1998.33,196.83 L2001.25,201.61 L2004.17,206.43 L2007.09,211.30 L2010.01,216.22 L2012.93,221.17 L2015.85,226.16 L2018.77,231.19 L2021.69,236.26 L2024.61,241.36 L2027.53,246.49 L2030.45,251.65 L2033.37,256.83 L2036.29,262.05 L2039.21,267.29 L2042.13,272.54 L2045.05,277.82 L2047.97,283.12 L2050.89,288.43 L2053.80,293.76 L2056.72,299.10 L2059.64,304.45 L2062.56,309.81 L2065.48,315.18 L2068.40,320.55 L2071.32,325.92" fill="none" stroke="#ff0000" stroke-width="4.4" stroke-linecap="square" stroke-linejoin="round"/>
<circle cx="1604.18" cy="346.81" r="4.2" fill="#ff0000"/><circle cx="1631.66" cy="270.28" r="4.2" fill="#ff0000"/><circle cx="1659.14" cy="212.23" r="4.2" fill="#ff0000"/><circle cx="1686.61" cy="179.69" r="4.2" fill="#ff0000"/><circle cx="1714.09" cy="126.91" r="4.2" fill="#ff0000"/><circle cx="1741.57" cy="101.62" r="4.2" fill="#ff0000"/><circle cx="1769.05" cy="76.55" r="4.2" fill="#ff0000"/><circle cx="1796.53" cy="68.20" r="4.2" fill="#ff0000"/><circle cx="1824.01" cy="64.90" r="4.2" fill="#ff0000"/><circle cx="1851.49" cy="55.88" r="4.2" fill="#ff0000"/><circle cx="1878.97" cy="60.28" r="4.2" fill="#ff0000"/><circle cx="1906.45" cy="84.03" r="4.2" fill="#ff0000"/><circle cx="1933.93" cy="105.58" r="4.2" fill="#ff0000"/><circle cx="1961.41" cy="139.44" r="4.2" fill="#ff0000"/><circle cx="1988.89" cy="169.57" r="4.2" fill="#ff0000"/><circle cx="2016.36" cy="217.07" r="4.2" fill="#ff0000"/><circle cx="2043.84" cy="279.96" r="4.2" fill="#ff0000"/><circle cx="2071.32" cy="323.28" r="4.2" fill="#ff0000"/>
<path d="M1604.18,356.48 L1607.10,351.07 L1610.02,345.66 L1612.94,340.27 L1615.86,334.89 L1618.78,329.53 L1621.70,324.19 L1624.61,318.87 L1627.53,313.57 L1630.45,308.30 L1633.37,303.05 L1636.29,297.83 L1639.21,292.64 L1642.13,287.48 L1645.05,282.36 L1647.97,277.27 L1650.89,272.22 L1653.81,267.21 L1656.73,262.23 L1659.65,257.30 L1662.57,252.42 L1665.49,247.57 L1668.41,242.78 L1671.33,238.03 L1674.25,233.34 L1677.17,228.69 L1680.09,224.10 L1683.01,219.56 L1685.93,215.08 L1688.85,210.66 L1691.77,206.30 L1694.69,202.00 L1697.61,197.76 L1700.53,193.58 L1703.45,189.47 L1706.37,185.43 L1709.28,181.46 L1712.20,177.55 L1715.12,173.71 L1718.04,169.95 L1720.96,166.26 L1723.88,162.64 L1726.80,159.10 L1729.72,155.64 L1732.64,152.25 L1735.56,148.95 L1738.48,145.72 L1741.40,142.58 L1744.32,139.51 L1747.24,136.53 L1750.16,133.64 L1753.08,130.83 L1756.00,128.10 L1758.92,125.47 L1761.84,122.92 L1764.76,120.46 L1767.68,118.09 L1770.60,115.81 L1773.52,113.63 L1776.44,111.53 L1779.36,109.53 L1782.28,107.62 L1785.20,105.80 L1788.12,104.08 L1791.04,102.46 L1793.96,100.93 L1796.87,99.49 L1799.79,98.16 L1802.71,96.92 L1805.63,95.78 L1808.55,94.73 L1811.47,93.79 L1814.39,92.94 L1817.31,92.19 L1820.23,91.54 L1823.15,91.00 L1826.07,90.55 L1828.99,90.20 L1831.91,89.95 L1834.83,89.80 L1837.75,89.75 L1840.67,89.80 L1843.59,89.95 L1846.51,90.20 L1849.43,90.55 L1852.35,91.00 L1855.27,91.54 L1858.19,92.19 L1861.11,92.94 L1864.03,93.79 L1866.95,94.73 L1869.87,95.78 L1872.79,96.92 L1875.71,98.16 L1878.63,99.49 L1881.54,100.93 L1884.46,102.46 L1887.38,104.08 L1890.30,105.80 L1893.22,107.62 L1896.14,109.53 L1899.06,111.53 L1901.98,113.63 L1904.90,115.81 L1907.82,118.09 L1910.74,120.46 L1913.66,122.92 L1916.58,125.47 L1919.50,128.10 L1922.42,130.83 L1925.34,133.64 L1928.26,136.53 L1931.18,139.51 L1934.10,142.58 L1937.02,145.72 L1939.94,148.95 L1942.86,152.25 L1945.78,155.64 L1948.70,159.10 L1951.62,162.64 L1954.54,166.26 L1957.46,169.95 L1960.38,173.71 L1963.30,177.55 L1966.22,181.46 L1969.13,185.43 L1972.05,189.47 L1974.97,193.58 L1977.89,197.76 L1980.81,202.00 L1983.73,206.30 L1986.65,210.66 L1989.57,215.08 L1992.49,219.56 L1995.41,224.10 L1998.33,228.69 L2001.25,233.34 L2004.17,238.03 L2007.09,242.78 L2010.01,247.57 L2012.93,252.42 L2015.85,257.30 L2018.77,262.23 L2021.69,267.21 L2024.61,272.22 L2027.53,277.27 L2030.45,282.36 L2033.37,287.48 L2036.29,292.64 L2039.21,297.83 L2042.13,303.05 L2045.05,308.30 L2047.97,313.57 L2050.89,318.87 L2053.80,324.19 L2056.72,329.53 L2059.64,334.89 L2062.56,340.27 L2065.48,345.66 L2068.40,351.07 L2071.32,356.48" fill="none" stroke="#008080" stroke-width="4.4" stroke-linecap="square" stroke-linejoin="round"/>
<circle cx="1604.18" cy="354.95" r="4.2" fill="#008080"/><circle cx="1631.66" cy="297.11" r="4.2" fill="#008080"/><circle cx="1659.14" cy="247.85" r="4.2" fill="#008080"/><circle cx="1686.61" cy="205.19" r="4.2" fill="#008080"/><circle cx="1714.09" cy="170.89" r="4.2" fill="#008080"/><circle cx="1741.57" cy="146.26" r="4.2" fill="#008080"/><circle cx="1769.05" cy="119.43" r="4.2" fill="#008080"/><circle cx="1796.53" cy="99.86" r="4.2" fill="#008080"/><circle cx="1824.01" cy="84.03" r="4.2" fill="#008080"/><circle cx="1851.49" cy="89.31" r="4.2" fill="#008080"/><circle cx="1878.97" cy="102.72" r="4.2" fill="#008080"/><circle cx="1906.45" cy="124.71" r="4.2" fill="#008080"/><circle cx="1933.93" cy="151.54" r="4.2" fill="#008080"/><circle cx="1961.41" cy="176.83" r="4.2" fill="#008080"/><circle cx="1988.89" cy="202.99" r="4.2" fill="#008080"/><circle cx="2016.36" cy="252.25" r="4.2" fill="#008080"/><circle cx="2043.84" cy="303.93" r="4.2" fill="#008080"/><circle cx="2071.32" cy="365.94" r="4.2" fill="#008080"/>
<path d="M1604.18,400.90 L1607.10,395.18 L1610.02,389.47 L1612.94,383.79 L1615.86,378.13 L1618.78,372.50 L1621.70,366.90 L1624.61,361.34 L1627.53,355.80 L1630.45,350.30 L1633.37,344.84 L1636.29,339.41 L1639.21,334.02 L1642.13,328.68 L1645.05,323.38 L1647.97,318.12 L1650.89,312.91 L1653.81,307.75 L1656.73,302.64 L1659.65,297.58 L1662.57,292.57 L1665.49,287.62 L1668.41,282.72 L1671.33,277.88 L1674.25,273.10 L1677.17,268.38 L1680.09,263.72 L1683.01,259.12 L1685.93,254.58 L1688.85,250.11 L1691.77,245.71 L1694.69,241.38 L1697.61,237.11 L1700.53,232.91 L1703.45,228.79 L1706.37,224.74 L1709.28,220.76 L1712.20,216.85 L1715.12,213.02 L1718.04,209.27 L1720.96,205.59 L1723.88,202.00 L1726.80,198.48 L1729.72,195.04 L1732.64,191.69 L1735.56,188.41 L1738.48,185.22 L1741.40,182.12 L1744.32,179.10 L1747.24,176.16 L1750.16,173.31 L1753.08,170.54 L1756.00,167.87 L1758.92,165.28 L1761.84,162.78 L1764.76,160.37 L1767.68,158.05 L1770.60,155.82 L1773.52,153.68 L1776.44,151.63 L1779.36,149.67 L1782.28,147.81 L1785.20,146.04 L1788.12,144.36 L1791.04,142.78 L1793.96,141.29 L1796.87,139.90 L1799.79,138.60 L1802.71,137.39 L1805.63,136.28 L1808.55,135.27 L1811.47,134.35 L1814.39,133.53 L1817.31,132.80 L1820.23,132.17 L1823.15,131.64 L1826.07,131.20 L1828.99,130.86 L1831.91,130.62 L1834.83,130.48 L1837.75,130.43 L1840.67,130.48 L1843.59,130.62 L1846.51,130.86 L1849.43,131.20 L1852.35,131.64 L1855.27,132.17 L1858.19,132.80 L1861.11,133.53 L1864.03,134.35 L1866.95,135.27 L1869.87,136.28 L1872.79,137.39 L1875.71,138.60 L1878.63,139.90 L1881.54,141.29 L1884.46,142.78 L1887.38,144.36 L1890.30,146.04 L1893.22,147.81 L1896.14,149.67 L1899.06,151.63 L1901.98,153.68 L1904.90,155.82 L1907.82,158.05 L1910.74,160.37 L1913.66,162.78 L1916.58,165.28 L1919.50,167.87 L1922.42,170.54 L1925.34,173.31 L1928.26,176.16 L1931.18,179.10 L1934.10,182.12 L1937.02,185.22 L1939.94,188.41 L1942.86,191.69 L1945.78,195.04 L1948.70,198.48 L1951.62,202.00 L1954.54,205.59 L1957.46,209.27 L1960.38,213.02 L1963.30,216.85 L1966.22,220.76 L1969.13,224.74 L1972.05,228.79 L1974.97,232.91 L1977.89,237.11 L1980.81,241.38 L1983.73,245.71 L1986.65,250.11 L1989.57,254.58 L1992.49,259.12 L1995.41,263.72 L1998.33,268.38 L2001.25,273.10 L2004.17,277.88 L2007.09,282.72 L2010.01,287.62 L2012.93,292.57 L2015.85,297.58 L2018.77,302.64 L2021.69,307.75 L2024.61,312.91 L2027.53,318.12 L2030.45,323.38 L2033.37,328.68 L2036.29,334.02 L2039.21,339.41 L2042.13,344.84 L2045.05,350.30 L2047.97,355.80 L2050.89,361.34 L2053.80,366.90 L2056.72,372.50 L2059.64,378.13 L2062.56,383.79 L2065.48,389.47 L2068.40,395.18 L2071.32,400.90" fill="none" stroke="#800080" stroke-width="4.4" stroke-linecap="square" stroke-linejoin="round"/>
<circle cx="1604.18" cy="409.92" r="4.2" fill="#800080"/><circle cx="1631.66" cy="344.17" r="4.2" fill="#800080"/><circle cx="1659.14" cy="294.47" r="4.2" fill="#800080"/><circle cx="1686.61" cy="252.69" r="4.2" fill="#800080"/><circle cx="1714.09" cy="217.07" r="4.2" fill="#800080"/><circle cx="1741.57" cy="184.74" r="4.2" fill="#800080"/><circle cx="1769.05" cy="157.92" r="4.2" fill="#800080"/><circle cx="1796.53" cy="139.66" r="4.2" fill="#800080"/><circle cx="1824.01" cy="131.75" r="4.2" fill="#800080"/><circle cx="1851.49" cy="128.01" r="4.2" fill="#800080"/><circle cx="1878.97" cy="144.72" r="4.2" fill="#800080"/><circle cx="1906.45" cy="164.51" r="4.2" fill="#800080"/><circle cx="1933.93" cy="191.34" r="4.2" fill="#800080"/><circle cx="1961.41" cy="214.87" r="4.2" fill="#800080"/><circle cx="1988.89" cy="249.83" r="4.2" fill="#800080"/><circle cx="2016.36" cy="297.11" r="4.2" fill="#800080"/><circle cx="2043.84" cy="351.43" r="4.2" fill="#800080"/><circle cx="2071.32" cy="409.92" r="4.2" fill="#800080"/>
<path d="M1604.18,431.91 L1607.10,425.81 L1610.02,419.74 L1612.94,413.70 L1615.86,407.68 L1618.78,401.70 L1621.70,395.75 L1624.61,389.84 L1627.53,383.97 L1630.45,378.13 L1633.37,372.34 L1636.29,366.59 L1639.21,360.88 L1642.13,355.22 L1645.05,349.61 L1647.97,344.05 L1650.89,338.54 L1653.81,333.08 L1656.73,327.68 L1659.65,322.33 L1662.57,317.05 L1665.49,311.82 L1668.41,306.65 L1671.33,301.55 L1674.25,296.51 L1677.17,291.53 L1680.09,286.62 L1683.01,281.78 L1685.93,277.01 L1688.85,272.31 L1691.77,267.68 L1694.69,263.12 L1697.61,258.64 L1700.53,254.23 L1703.45,249.90 L1706.37,245.65 L1709.28,241.48 L1712.20,237.38 L1715.12,233.37 L1718.04,229.43 L1720.96,225.58 L1723.88,221.82 L1726.80,218.13 L1729.72,214.54 L1732.64,211.03 L1735.56,207.60 L1738.48,204.27 L1741.40,201.02 L1744.32,197.86 L1747.24,194.79 L1750.16,191.82 L1753.08,188.93 L1756.00,186.14 L1758.92,183.44 L1761.84,180.83 L1764.76,178.31 L1767.68,175.89 L1770.60,173.57 L1773.52,171.34 L1776.44,169.21 L1779.36,167.17 L1782.28,165.23 L1785.20,163.38 L1788.12,161.64 L1791.04,159.99 L1793.96,158.44 L1796.87,156.99 L1799.79,155.64 L1802.71,154.38 L1805.63,153.23 L1808.55,152.17 L1811.47,151.22 L1814.39,150.36 L1817.31,149.61 L1820.23,148.95 L1823.15,148.40 L1826.07,147.95 L1828.99,147.59 L1831.91,147.34 L1834.83,147.19 L1837.75,147.14 L1840.67,147.19 L1843.59,147.34 L1846.51,147.59 L1849.43,147.95 L1852.35,148.40 L1855.27,148.95 L1858.19,149.61 L1861.11,150.36 L1864.03,151.22 L1866.95,152.17 L1869.87,153.23 L1872.79,154.38 L1875.71,155.64 L1878.63,156.99 L1881.54,158.44 L1884.46,159.99 L1887.38,161.64 L1890.30,163.38 L1893.22,165.23 L1896.14,167.17 L1899.06,169.21 L1901.98,171.34 L1904.90,173.57 L1907.82,175.89 L1910.74,178.31 L1913.66,180.83 L1916.58,183.44 L1919.50,186.14 L1922.42,188.93 L1925.34,191.82 L1928.26,194.79 L1931.18,197.86 L1934.10,201.02 L1937.02,204.27 L1939.94,207.60 L1942.86,211.03 L1945.78,214.54 L1948.70,218.13 L1951.62,221.82 L1954.54,225.58 L1957.46,229.43 L1960.38,233.37 L1963.30,237.38 L1966.22,241.48 L1969.13,245.65 L1972.05,249.90 L1974.97,254.23 L1977.89,258.64 L1980.81,263.12 L1983.73,267.68 L1986.65,272.31 L1989.57,277.01 L1992.49,281.78 L1995.41,286.62 L1998.33,291.53 L2001.25,296.51 L2004.17,301.55 L2007.09,306.65 L2010.01,311.82 L2012.93,317.05 L2015.85,322.33 L2018.77,327.68 L2021.69,333.08 L2024.61,338.54 L2027.53,344.05 L2030.45,349.61 L2033.37,355.22 L2036.29,360.88 L2039.21,366.59 L2042.13,372.34 L2045.05,378.13 L2047.97,383.97 L2050.89,389.84 L2053.80,395.75 L2056.72,401.70 L2059.64,407.68 L2062.56,413.70 L2065.48,419.74 L2068.40,425.81 L2071.32,431.91" fill="none" stroke="#0000ff" stroke-width="4.4" stroke-dasharray="16.28 7.04" stroke-dashoffset="1.7" stroke-linejoin="round"/></g>
<path d="M151.60,674.90v-8.5M151.60,15.20v8.5M179.08,674.90v-8.5M179.08,15.20v8.5M206.56,674.90v-13.0M206.56,15.20v13.0M234.04,674.90v-8.5M234.04,15.20v8.5M261.52,674.90v-8.5M261.52,15.20v8.5M289.00,674.90v-8.5M289.00,15.20v8.5M316.48,674.90v-13.0M316.48,15.20v13.0M343.95,674.90v-8.5M343.95,15.20v8.5M371.43,674.90v-8.5M371.43,15.20v8.5M398.91,674.90v-8.5M398.91,15.20v8.5M426.39,674.90v-13.0M426.39,15.20v13.0M453.87,674.90v-8.5M453.87,15.20v8.5M481.35,674.90v-8.5M481.35,15.20v8.5M508.83,674.90v-8.5M508.83,15.20v8.5M536.31,674.90v-13.0M536.31,15.20v13.0M563.79,674.90v-8.5M563.79,15.20v8.5M591.27,674.90v-8.5M591.27,15.20v8.5M618.75,674.90v-8.5M618.75,15.20v8.5M646.23,674.90v-13.0M646.23,15.20v13.0M673.70,674.90v-8.5M673.70,15.20v8.5M701.18,674.90v-8.5M701.18,15.20v8.5M728.66,674.90v-8.5M728.66,15.20v8.5M756.14,674.90v-13.0M756.14,15.20v13.0M783.62,674.90v-8.5M783.62,15.20v8.5M811.10,674.90v-8.5M811.10,15.20v8.5M151.60,674.90h13.0M811.10,674.90h-13.0M151.60,652.91h8.5M811.10,652.91h-8.5M151.60,630.92h8.5M811.10,630.92h-8.5M151.60,608.93h8.5M811.10,608.93h-8.5M151.60,586.94h8.5M811.10,586.94h-8.5M151.60,564.95h13.0M811.10,564.95h-13.0M151.60,542.96h8.5M811.10,542.96h-8.5M151.60,520.97h8.5M811.10,520.97h-8.5M151.60,498.98h8.5M811.10,498.98h-8.5M151.60,476.99h8.5M811.10,476.99h-8.5M151.60,455.00h13.0M811.10,455.00h-13.0M151.60,433.01h8.5M811.10,433.01h-8.5M151.60,411.02h8.5M811.10,411.02h-8.5M151.60,389.03h8.5M811.10,389.03h-8.5M151.60,367.04h8.5M811.10,367.04h-8.5M151.60,345.05h13.0M811.10,345.05h-13.0M151.60,323.06h8.5M811.10,323.06h-8.5M151.60,301.07h8.5M811.10,301.07h-8.5M151.60,279.08h8.5M811.10,279.08h-8.5M151.60,257.09h8.5M811.10,257.09h-8.5M151.60,235.10h13.0M811.10,235.10h-13.0M151.60,213.11h8.5M811.10,213.11h-8.5M151.60,191.12h8.5M811.10,191.12h-8.5M151.60,169.13h8.5M811.10,169.13h-8.5M151.60,147.14h8.5M811.10,147.14h-8.5M151.60,125.15h13.0M811.10,125.15h-13.0M151.60,103.16h8.5M811.10,103.16h-8.5M151.60,81.17h8.5M811.10,81.17h-8.5M151.60,59.18h8.5M811.10,59.18h-8.5M151.60,37.19h8.5M811.10,37.19h-8.5M151.60,15.20h13.0M811.10,15.20h-13.0" stroke="#000" stroke-width="4" fill="none"/>
<rect x="151.60" y="15.20" width="659.50" height="659.70" fill="none" stroke="#000" stroke-width="3.1"/>
<text x="168.19" y="720.2" font-size="45.5"><tspan dy="3.7" textLength="32.33" lengthAdjust="spacingAndGlyphs">−</tspan><tspan dy="-3.7">50</tspan></text>
<text x="278.11" y="720.2" font-size="45.5"><tspan dy="3.7" textLength="32.33" lengthAdjust="spacingAndGlyphs">−</tspan><tspan dy="-3.7">30</tspan></text>
<text x="388.03" y="720.2" font-size="45.5"><tspan dy="3.7" textLength="32.33" lengthAdjust="spacingAndGlyphs">−</tspan><tspan dy="-3.7">10</tspan></text>
<text x="536.31" y="720.2" text-anchor="middle" font-size="45.5">10</text>
<text x="646.23" y="720.2" text-anchor="middle" font-size="45.5">30</text>
<text x="756.14" y="720.2" text-anchor="middle" font-size="45.5">50</text>
<text x="480.35" y="776" text-anchor="middle" font-size="43.5">Latitude [°]</text>
<path d="M829.80,674.90v-8.5M829.80,15.20v8.5M857.28,674.90v-8.5M857.28,15.20v8.5M884.76,674.90v-13.0M884.76,15.20v13.0M912.24,674.90v-8.5M912.24,15.20v8.5M939.72,674.90v-8.5M939.72,15.20v8.5M967.20,674.90v-8.5M967.20,15.20v8.5M994.67,674.90v-13.0M994.67,15.20v13.0M1022.15,674.90v-8.5M1022.15,15.20v8.5M1049.63,674.90v-8.5M1049.63,15.20v8.5M1077.11,674.90v-8.5M1077.11,15.20v8.5M1104.59,674.90v-13.0M1104.59,15.20v13.0M1132.07,674.90v-8.5M1132.07,15.20v8.5M1159.55,674.90v-8.5M1159.55,15.20v8.5M1187.03,674.90v-8.5M1187.03,15.20v8.5M1214.51,674.90v-13.0M1214.51,15.20v13.0M1241.99,674.90v-8.5M1241.99,15.20v8.5M1269.47,674.90v-8.5M1269.47,15.20v8.5M1296.95,674.90v-8.5M1296.95,15.20v8.5M1324.42,674.90v-13.0M1324.42,15.20v13.0M1351.90,674.90v-8.5M1351.90,15.20v8.5M1379.38,674.90v-8.5M1379.38,15.20v8.5M1406.86,674.90v-8.5M1406.86,15.20v8.5M1434.34,674.90v-13.0M1434.34,15.20v13.0M1461.82,674.90v-8.5M1461.82,15.20v8.5M1489.30,674.90v-8.5M1489.30,15.20v8.5M829.80,674.90h13.0M1489.30,674.90h-13.0M829.80,652.91h8.5M1489.30,652.91h-8.5M829.80,630.92h8.5M1489.30,630.92h-8.5M829.80,608.93h8.5M1489.30,608.93h-8.5M829.80,586.94h8.5M1489.30,586.94h-8.5M829.80,564.95h13.0M1489.30,564.95h-13.0M829.80,542.96h8.5M1489.30,542.96h-8.5M829.80,520.97h8.5M1489.30,520.97h-8.5M829.80,498.98h8.5M1489.30,498.98h-8.5M829.80,476.99h8.5M1489.30,476.99h-8.5M829.80,455.00h13.0M1489.30,455.00h-13.0M829.80,433.01h8.5M1489.30,433.01h-8.5M829.80,411.02h8.5M1489.30,411.02h-8.5M829.80,389.03h8.5M1489.30,389.03h-8.5M829.80,367.04h8.5M1489.30,367.04h-8.5M829.80,345.05h13.0M1489.30,345.05h-13.0M829.80,323.06h8.5M1489.30,323.06h-8.5M829.80,301.07h8.5M1489.30,301.07h-8.5M829.80,279.08h8.5M1489.30,279.08h-8.5M829.80,257.09h8.5M1489.30,257.09h-8.5M829.80,235.10h13.0M1489.30,235.10h-13.0M829.80,213.11h8.5M1489.30,213.11h-8.5M829.80,191.12h8.5M1489.30,191.12h-8.5M829.80,169.13h8.5M1489.30,169.13h-8.5M829.80,147.14h8.5M1489.30,147.14h-8.5M829.80,125.15h13.0M1489.30,125.15h-13.0M829.80,103.16h8.5M1489.30,103.16h-8.5M829.80,81.17h8.5M1489.30,81.17h-8.5M829.80,59.18h8.5M1489.30,59.18h-8.5M829.80,37.19h8.5M1489.30,37.19h-8.5M829.80,15.20h13.0M1489.30,15.20h-13.0" stroke="#000" stroke-width="4" fill="none"/>
<rect x="829.80" y="15.20" width="659.50" height="659.70" fill="none" stroke="#000" stroke-width="3.1"/>
<text x="846.39" y="720.2" font-size="45.5"><tspan dy="3.7" textLength="32.33" lengthAdjust="spacingAndGlyphs">−</tspan><tspan dy="-3.7">50</tspan></text>
<text x="956.31" y="720.2" font-size="45.5"><tspan dy="3.7" textLength="32.33" lengthAdjust="spacingAndGlyphs">−</tspan><tspan dy="-3.7">30</tspan></text>
<text x="1066.23" y="720.2" font-size="45.5"><tspan dy="3.7" textLength="32.33" lengthAdjust="spacingAndGlyphs">−</tspan><tspan dy="-3.7">10</tspan></text>
<text x="1214.51" y="720.2" text-anchor="middle" font-size="45.5">10</text>
<text x="1324.42" y="720.2" text-anchor="middle" font-size="45.5">30</text>
<text x="1434.34" y="720.2" text-anchor="middle" font-size="45.5">50</text>
<text x="1158.55" y="776" text-anchor="middle" font-size="43.5">Latitude [°]</text>
<path d="M1508.00,674.90v-8.5M1508.00,15.20v8.5M1535.48,674.90v-8.5M1535.48,15.20v8.5M1562.96,674.90v-13.0M1562.96,15.20v13.0M1590.44,674.90v-8.5M1590.44,15.20v8.5M1617.92,674.90v-8.5M1617.92,15.20v8.5M1645.40,674.90v-8.5M1645.40,15.20v8.5M1672.88,674.90v-13.0M1672.88,15.20v13.0M1700.35,674.90v-8.5M1700.35,15.20v8.5M1727.83,674.90v-8.5M1727.83,15.20v8.5M1755.31,674.90v-8.5M1755.31,15.20v8.5M1782.79,674.90v-13.0M1782.79,15.20v13.0M1810.27,674.90v-8.5M1810.27,15.20v8.5M1837.75,674.90v-8.5M1837.75,15.20v8.5M1865.23,674.90v-8.5M1865.23,15.20v8.5M1892.71,674.90v-13.0M1892.71,15.20v13.0M1920.19,674.90v-8.5M1920.19,15.20v8.5M1947.67,674.90v-8.5M1947.67,15.20v8.5M1975.15,674.90v-8.5M1975.15,15.20v8.5M2002.62,674.90v-13.0M2002.62,15.20v13.0M2030.10,674.90v-8.5M2030.10,15.20v8.5M2057.58,674.90v-8.5M2057.58,15.20v8.5M2085.06,674.90v-8.5M2085.06,15.20v8.5M2112.54,674.90v-13.0M2112.54,15.20v13.0M2140.02,674.90v-8.5M2140.02,15.20v8.5M2167.50,674.90v-8.5M2167.50,15.20v8.5M1508.00,674.90h13.0M2167.50,674.90h-13.0M1508.00,652.91h8.5M2167.50,652.91h-8.5M1508.00,630.92h8.5M2167.50,630.92h-8.5M1508.00,608.93h8.5M2167.50,608.93h-8.5M1508.00,586.94h8.5M2167.50,586.94h-8.5M1508.00,564.95h13.0M2167.50,564.95h-13.0M1508.00,542.96h8.5M2167.50,542.96h-8.5M1508.00,520.97h8.5M2167.50,520.97h-8.5M1508.00,498.98h8.5M2167.50,498.98h-8.5M1508.00,476.99h8.5M2167.50,476.99h-8.5M1508.00,455.00h13.0M2167.50,455.00h-13.0M1508.00,433.01h8.5M2167.50,433.01h-8.5M1508.00,411.02h8.5M2167.50,411.02h-8.5M1508.00,389.03h8.5M2167.50,389.03h-8.5M1508.00,367.04h8.5M2167.50,367.04h-8.5M1508.00,345.05h13.0M2167.50,345.05h-13.0M1508.00,323.06h8.5M2167.50,323.06h-8.5M1508.00,301.07h8.5M2167.50,301.07h-8.5M1508.00,279.08h8.5M2167.50,279.08h-8.5M1508.00,257.09h8.5M2167.50,257.09h-8.5M1508.00,235.10h13.0M2167.50,235.10h-13.0M1508.00,213.11h8.5M2167.50,213.11h-8.5M1508.00,191.12h8.5M2167.50,191.12h-8.5M1508.00,169.13h8.5M2167.50,169.13h-8.5M1508.00,147.14h8.5M2167.50,147.14h-8.5M1508.00,125.15h13.0M2167.50,125.15h-13.0M1508.00,103.16h8.5M2167.50,103.16h-8.5M1508.00,81.17h8.5M2167.50,81.17h-8.5M1508.00,59.18h8.5M2167.50,59.18h-8.5M1508.00,37.19h8.5M2167.50,37.19h-8.5M1508.00,15.20h13.0M2167.50,15.20h-13.0" stroke="#000" stroke-width="4" fill="none"/>
<rect x="1508.00" y="15.20" width="659.50" height="659.70" fill="none" stroke="#000" stroke-width="3.1"/>
<text x="1524.59" y="720.2" font-size="45.5"><tspan dy="3.7" textLength="32.33" lengthAdjust="spacingAndGlyphs">−</tspan><tspan dy="-3.7">50</tspan></text>
<text x="1634.51" y="720.2" font-size="45.5"><tspan dy="3.7" textLength="32.33" lengthAdjust="spacingAndGlyphs">−</tspan><tspan dy="-3.7">30</tspan></text>
<text x="1744.43" y="720.2" font-size="45.5"><tspan dy="3.7" textLength="32.33" lengthAdjust="spacingAndGlyphs">−</tspan><tspan dy="-3.7">10</tspan></text>
<text x="1892.71" y="720.2" text-anchor="middle" font-size="45.5">10</text>
<text x="2002.62" y="720.2" text-anchor="middle" font-size="45.5">30</text>
<text x="2112.54" y="720.2" text-anchor="middle" font-size="45.5">50</text>
<text x="1836.75" y="776" text-anchor="middle" font-size="43.5">Latitude [°]</text>
<text x="135.9" y="689.65" text-anchor="end" font-size="45.5">12.0</text>
<text x="135.9" y="579.70" text-anchor="end" font-size="45.5">12.5</text>
<text x="135.9" y="469.75" text-anchor="end" font-size="45.5">13.0</text>
<text x="135.9" y="359.80" text-anchor="end" font-size="45.5">13.5</text>
<text x="135.9" y="249.85" text-anchor="end" font-size="45.5">14.0</text>
<text x="135.9" y="139.90" text-anchor="end" font-size="45.5">14.5</text>
<text x="135.9" y="29.95" text-anchor="end" font-size="45.5">15.0</text>
<text transform="translate(178.70,102.7) scale(1.04,1)" font-size="63">a)</text>
<text transform="translate(856.90,102.7) scale(1.04,1)" font-size="63">b)</text>
<text transform="translate(1535.10,102.7) scale(1.04,1)" font-size="63">c)</text>
<text transform="translate(33,0) rotate(-90)" font-size="43.5"><tspan x="-434.65" y="0" font-size="45.2">Ω </tspan><tspan x="-388.9" y="0">[</tspan><tspan x="-371.3" y="-8.5" font-size="36">° </tspan><tspan x="-347.0" y="0">day</tspan><tspan x="-286.0" y="-15" font-size="23.4">−</tspan><tspan x="-274.9" y="-17.7" font-size="21.2">1</tspan><tspan x="-266.3" y="0">]</tspan></text>
<path d="M362.20,345.60h45.8" stroke="#800080" stroke-width="4.4" stroke-dasharray="16.28 7.04" fill="none"/><text x="433.50" y="357.10" font-size="33" fill="#800080">Ca-K (KoSO)<tspan font-size="25" dy="-11.7">1</tspan></text>
<path d="M362.20,395.35h45.8" stroke="#ff0000" stroke-width="4.4" stroke-linecap="square" fill="none"/><text x="433.50" y="406.85" font-size="33" fill="#ff0000">Ca-K (KoSO)<tspan font-size="25" dy="-11.7">2</tspan></text>
<path d="M362.20,445.40h45.8" stroke="#808000" stroke-width="4.4" stroke-dasharray="28.16 7.04 4.40 7.04" fill="none"/><text x="433.50" y="456.90" font-size="33" fill="#808000">Ca-K (KoSO)<tspan font-size="25" dy="-11.7">3</tspan></text>
<path d="M362.20,491.80h45.8" stroke="#0000ff" stroke-width="4.4" stroke-dasharray="16.28 7.04" fill="none"/><text x="433.50" y="503.30" font-size="33" fill="#0000ff">WL</text>
<path d="M1013.90,345.90h45.8" stroke="#ff8c00" stroke-width="4.4" stroke-dasharray="22.00 4.40" fill="none"/><text x="1085.50" y="357.40" font-size="33" fill="#ff8c00">Wan+ 2022</text>
<path d="M1013.90,392.00h45.8" stroke="#2f4f4f" stroke-width="4.4" stroke-dasharray="28.16 7.04 4.40 7.04" fill="none"/><text x="1085.50" y="403.50" font-size="33" fill="#2f4f4f">Antonucci+ 1979</text>
<path d="M1013.90,437.30h45.8" stroke="#ff0000" stroke-width="4.4" stroke-linecap="square" fill="none"/><text x="1085.50" y="448.80" font-size="33" fill="#ff0000">Ca-K (KoSO)</text>
<path d="M1013.90,484.50h45.8" stroke="#0000ff" stroke-width="4.4" stroke-dasharray="16.28 7.04" fill="none"/><text x="1085.50" y="496.00" font-size="33" fill="#0000ff">WL</text>
<path d="M1013.90,531.10h45.8" stroke="#a52a2a" stroke-width="4.4" stroke-dasharray="28.16 7.04 4.40 7.04" fill="none"/><text x="1085.50" y="542.60" font-size="33" fill="#a52a2a">Bertello+ 2020</text>
<path d="M1013.90,577.70h45.8" stroke="#c71585" stroke-width="4.4" stroke-dasharray="4.40 4.31" fill="none"/><text x="1085.50" y="589.20" font-size="33" fill="#c71585">Howard+ 1983</text>
<path d="M1745.70,359.40h45.8" stroke="#ff0000" stroke-width="4.4" stroke-linecap="square" fill="none"/><text x="1816.90" y="370.90" font-size="33" fill="#ff0000">KoSO</text>
<path d="M1745.70,405.40h45.8" stroke="#008080" stroke-width="4.4" stroke-linecap="square" fill="none"/><text x="1816.90" y="416.90" font-size="33" fill="#008080">Rome/PSPT</text>
<path d="M1745.70,451.30h45.8" stroke="#800080" stroke-width="4.4" stroke-linecap="square" fill="none"/><text x="1816.90" y="462.80" font-size="33" fill="#800080">Meudon</text>
<path d="M1745.70,498.00h45.8" stroke="#0000ff" stroke-width="4.4" stroke-dasharray="16.28 7.04" fill="none"/><text x="1816.90" y="509.50" font-size="33" fill="#0000ff">WL</text>
</svg>
</body></html>
